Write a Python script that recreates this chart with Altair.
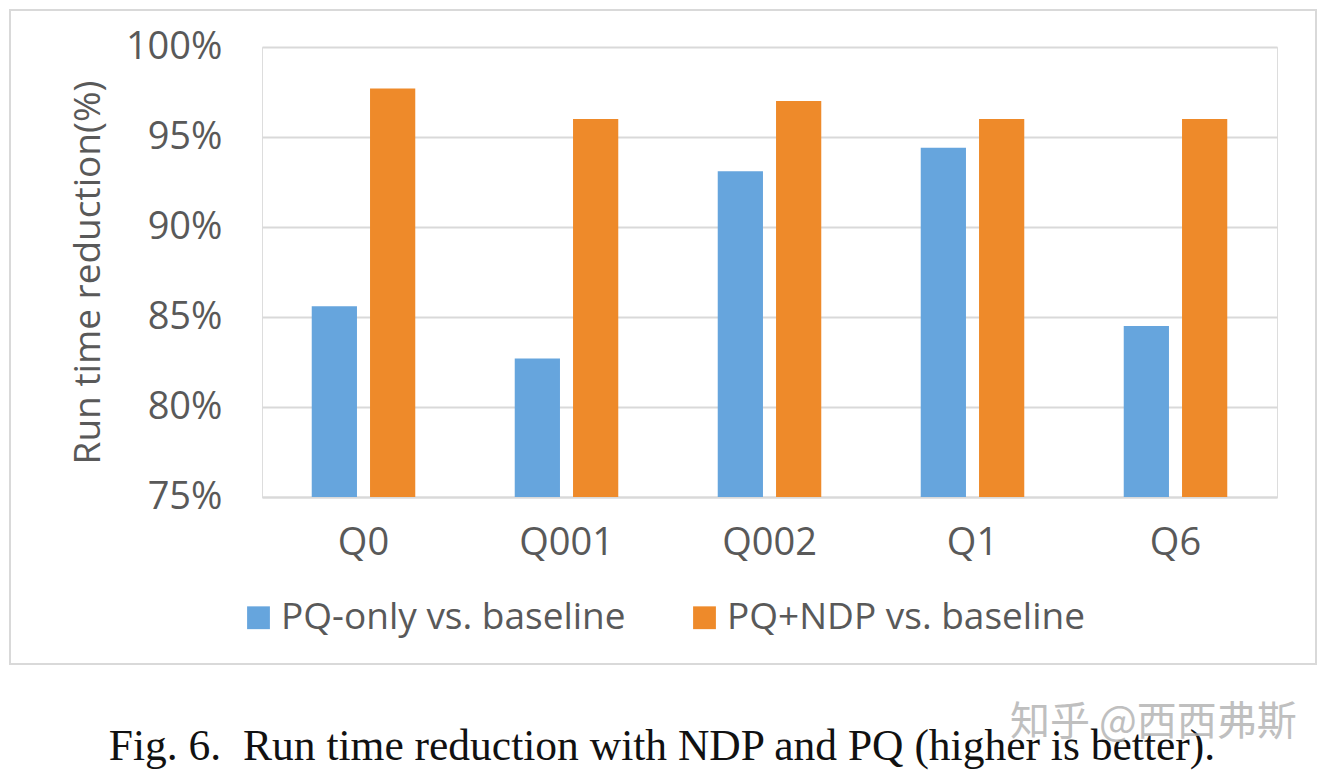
import altair as alt
import pandas as pd

categories = ["Q0", "Q001", "Q002", "Q1", "Q6"]
series_names = ["PQ-only vs. baseline", "PQ+NDP vs. baseline"]
pq_only = [85.6, 82.7, 93.1, 94.4, 84.5]
pq_ndp = [97.7, 96.0, 97.0, 96.0, 96.0]
colors = ["#66A5DD", "#EE8A2A"]
caption = "Fig. 6.\u00a0\u00a0Run time reduction with NDP and PQ (higher is better)."
watermark = "知乎 @西西弗斯"

rows = []
for i, c in enumerate(categories):
    rows.append({"cat": c, "series": series_names[0], "value": pq_only[i]})
    rows.append({"cat": c, "series": series_names[1], "value": pq_ndp[i]})
df = pd.DataFrame(rows)

FONT = "Open Sans"
GRAY = "#595959"

bars = alt.Chart(df).mark_bar(clip=False).encode(
    x=alt.X("cat:N", sort=categories, title=None,
            scale=alt.Scale(paddingInner=0.49, paddingOuter=0.245),
            axis=alt.Axis(labelAngle=0, labelFontSize=38, labelColor=GRAY, labelFont=FONT,
                          labelPadding=27, ticks=False, domain=True, domainColor="#d9d9d9",
                          domainWidth=2)),
    xOffset=alt.XOffset("series:N", sort=series_names,
                        scale=alt.Scale(paddingInner=0.224, paddingOuter=0)),
    y=alt.Y("value:Q", title="Run time reduction(%)",
            scale=alt.Scale(domain=[75, 100], zero=False, nice=False),
            axis=alt.Axis(values=[75, 80, 85, 90, 95, 100], labelExpr="datum.value + '%'",
                          labelFontSize=38, labelColor=GRAY, labelFont=FONT, labelPadding=40,
                          ticks=False, domain=False, gridColor="#d9d9d9", gridWidth=2,
                          titleFontSize=37, titleFont=FONT, titleColor=GRAY,
                          titleFontWeight="normal", titlePadding=18)),
    y2=alt.datum(75),
    color=alt.Color("series:N", sort=series_names,
                    scale=alt.Scale(domain=series_names, range=colors),
                    legend=alt.Legend(title=None, orient="none", direction="horizontal",
                                      legendX=-22, legendY=552, symbolType="square",
                                      symbolSize=520, symbolStrokeWidth=0, labelFontSize=37,
                                      labelFont=FONT, labelColor=GRAY, columnPadding=60,
                                      labelOffset=4, symbolOffset=0, labelLimit=0)),
)

one = pd.DataFrame({"a": [0]})
border = alt.Chart(one).mark_rect(fill=None, stroke="#d9d9d9", strokeWidth=2, clip=False).encode(
    x=alt.value(-252), x2=alt.value(1054), y=alt.value(-37), y2=alt.value(617))

cap = alt.Chart(pd.DataFrame({"t": [caption]})).mark_text(
    font="Liberation Serif", fontSize=43.5, color="#111111", align="center", baseline="alphabetic",
    clip=False).encode(text="t:N", x=alt.value(400), y=alt.value(713))

wm = alt.Chart(pd.DataFrame({"t": [watermark]})).mark_text(
    font="Noto Sans CJK SC", fontSize=40, color="#b0b0b0", opacity=0.8, align="left",
    baseline="alphabetic", clip=False).encode(text="t:N", x=alt.value(748), y=alt.value(688))

chart = alt.layer(border, bars, cap, wm).properties(
    width=1015, height=450, padding={"left": 254, "top": 39, "right": 40, "bottom": 276},
    autosize=alt.AutoSizeParams(type="none"),
).configure_view(stroke=None).configure(background="white")

chart.save("out.html", embed_options={"renderer": "svg", "actions": False})
